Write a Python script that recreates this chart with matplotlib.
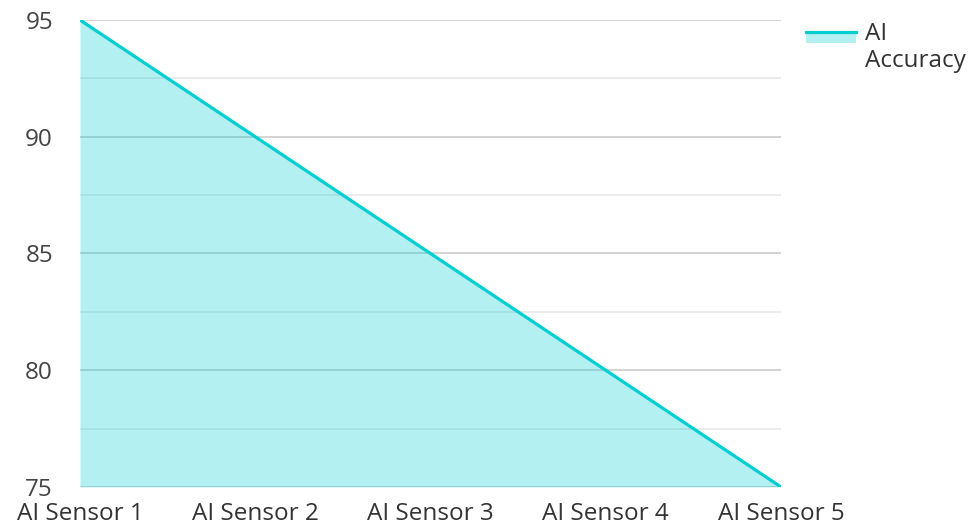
import matplotlib
matplotlib.use("Agg")
import matplotlib.pyplot as plt
from matplotlib.lines import Line2D
from matplotlib.patches import Rectangle
from matplotlib.ticker import MultipleLocator

categories = ["AI Sensor 1", "AI Sensor 2", "AI Sensor 3", "AI Sensor 4", "AI Sensor 5"]
accuracy = [95, 90, 85, 80, 75]
series_label_lines = ["AI", "Accuracy"]

plt.rcParams['font.family'] = ['Open Sans', 'DejaVu Sans']

W, H = 971, 526
fig = plt.figure(figsize=(W / 100, H / 100), dpi=100)
ax = fig.add_axes([80 / W, 1 - 487 / H, (781 - 80) / W, (487 - 20) / H])

color = "#00CED1"
x = list(range(len(categories)))
ax.fill_between(x, accuracy, 75, color=color, alpha=0.3, linewidth=0, zorder=3)
ax.plot(x, accuracy, color=color, linewidth=2.3, zorder=4, solid_capstyle='butt')

ax.set_xlim(0, len(categories) - 1)
ax.set_ylim(75, 95)
ax.set_xticks(x)
ax.set_xticklabels(categories)
ax.yaxis.set_major_locator(MultipleLocator(5))
ax.yaxis.set_minor_locator(MultipleLocator(2.5))
ax.grid(True, which='major', axis='y', color='#cccccc', linewidth=1.2, zorder=1)
ax.grid(True, which='minor', axis='y', color='#e8e8e8', linewidth=1.2, zorder=1)
ax.set_axisbelow(True)
for s in ax.spines.values():
    s.set_visible(False)
ax.tick_params(axis='both', which='both', length=0, labelsize=17.5)
ax.tick_params(axis='y', colors='#444444', pad=19.5)
ax.tick_params(axis='x', colors='#333333', pad=11)

# legend
fig.add_artist(Rectangle((806 / W, 1 - 43 / H), 50 / W, 11 / H, transform=fig.transFigure,
                         facecolor=color, alpha=0.3, linewidth=0))
fig.add_artist(Line2D([806 / W, 856 / W], [1 - 32 / H, 1 - 32 / H], transform=fig.transFigure,
                      color=color, linewidth=2.3))
fig.text(865 / W, 1 - 40 / H, series_label_lines[0], fontsize=17.5, color='#333333',
         va='baseline', ha='left')
fig.text(865 / W, 1 - 67 / H, series_label_lines[1], fontsize=17.5, color='#333333',
         va='baseline', ha='left')

fig.savefig("out.png", dpi=100)
